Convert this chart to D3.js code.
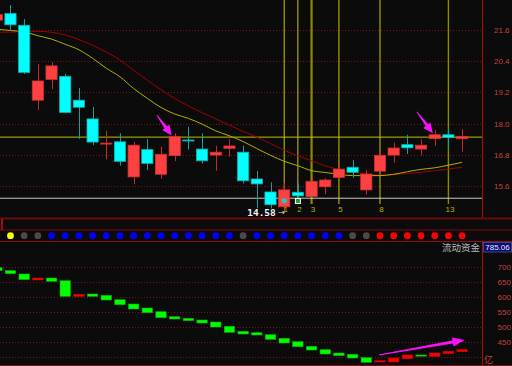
<!DOCTYPE html>
<html>
<head>
<meta charset="utf-8">
<script src="https://cdn.jsdelivr.net/npm/d3@7"></script>
<style>
  html, body { margin: 0; padding: 0; background: #0b0b0b; }
  svg { display: block; }
</style>
</head>
<body>
<svg id="chart" width="512" height="366"></svg>
<script>
// --------------------------------------
// data
// --------------------------------------
var openP  = [21.98, 22.23, 21.78, 18.90, 19.70, 19.82, 18.90, 18.18, 17.23, 17.30, 15.95, 17.00, 16.05, 16.77, 17.37, 17.02, 16.79, 17.05,
              16.90, 15.87, 15.37, 14.80, 15.36, 15.19, 15.57, 15.93, 16.32, 15.45, 16.17, 16.79, 17.19, 17.02, 17.42, 17.57, 17.42];
var closeP = [22.19, 21.80, 19.97, 19.64, 20.22, 18.43, 18.63, 17.29, 17.25, 16.55, 17.17, 16.47, 16.82, 17.50, 17.36, 16.57, 16.90, 17.14,
              15.80, 15.68, 14.88, 15.45, 15.22, 15.78, 15.83, 16.25, 16.13, 16.06, 16.78, 17.06, 17.07, 17.17, 17.57, 17.47, 17.51];
var highP  = [22.25, 22.56, 22.02, 20.28, 20.36, 19.91, 19.37, 18.64, 17.72, 17.63, 17.30, 17.41, 17.11, 17.63, 17.88, 17.63, 17.15, 17.40,
              17.15, 16.18, 15.74, 15.72, 15.70, 15.95, 15.90, 16.50, 16.60, 16.22, 16.95, 17.27, 17.57, 17.40, 17.75, 17.86, 17.79];
var lowP   = [21.95, 21.60, 19.91, 18.53, 19.32, 18.40, 17.41, 17.17, 16.63, 16.38, 15.67, 16.22, 15.88, 16.56, 17.00, 16.46, 16.19, 16.73,
              15.70, 14.74, 14.74, 14.58, 15.15, 15.19, 15.28, 15.83, 15.92, 15.27, 16.17, 16.50, 16.83, 16.78, 17.14, 17.07, 16.92];

// moving averages
var maFast = [21.63, 21.58, 21.53, 21.38, 21.25, 21.05, 20.84, 20.51, 20.13, 19.80, 19.35, 18.97, 18.62, 18.37, 18.20, 17.98, 17.72, 17.53,
              17.31, 17.04, 16.78, 16.55, 16.38, 16.19, 16.12, 16.05, 16.00, 16.00, 16.00, 16.05, 16.15, 16.24, 16.30, 16.40, 16.51];
var maSlow = [21.51, 21.52, 21.54, 21.55, 21.51, 21.41, 21.23, 21.01, 20.75, 20.45, 20.05, 19.67, 19.30, 18.97, 18.68, 18.42, 18.18, 17.94,
              17.70, 17.48, 17.23, 16.98, 16.76, 16.57, 16.38, 16.23, 16.13, 16.07, 16.02, 16.04, 16.08, 16.13, 16.19, 16.25, 16.32];

// 流动资金 (亿) - each box runs from open to close
var flowOpen  = [698.7, 688.7, 677.7, 657.7, 664.3, 655.3, 603.3, 611.0, 606.7, 592.0, 577.7, 564.3, 552.0, 535.3, 530.0, 524.3, 517.7, 503.3,
                 486.7, 482.0, 475.3, 463.3, 452.0, 436.7, 425.3, 414.3, 410.0, 398.7, 384.3, 384.3, 395.3, 407.7, 403.3, 412.0, 418.7];
var flowClose = [688.7, 678.7, 658.7, 664.3, 653.3, 603.3, 610.0, 603.3, 591.0, 575.3, 561.0, 548.7, 532.0, 527.7, 522.0, 514.3, 501.0, 483.3,
                 477.7, 474.3, 460.0, 447.7, 435.3, 424.3, 411.0, 405.3, 397.7, 383.3, 388.7, 397.7, 407.7, 404.3, 414.3, 420.0, 425.3];
var flowLast = "785.06";

// signal dots: o olive, y yellow, g gray, b blue, r red
var dotCodes = ["o", "y", "g", "g", "b", "b", "b", "b", "b", "b", "b", "b", "b", "b", "b", "b", "b", "b",
                "g", "b", "b", "b", "b", "b", "b", "b", "g", "g", "r", "r", "r", "r", "r", "r", "r"];

var priceTicks = [21.6, 20.4, 19.2, 18.0, 16.8, 15.6];
var flowTicks = [700, 650, 600, 550, 500, 450];
var flowGrid = [700, 650, 600, 550, 500, 450, 400];

// fibonacci time lines counted from the bottom bar
var fibBase = 20;
var fibSteps = [1, 2, 3, 5, 8, 13];

var hLineYellow = 17.48;
var hLineWhite = 15.13;
var lowMark = {i: 21, price: 14.58};

// magenta arrows drawn on the chart (bar index / value)
var priceArrows = [
    {from: [11.69, 18.33], to: [12.78, 17.54]},
    {from: [30.69, 18.46], to: [31.86, 17.63]}
];
var flowArrows = [
    {from: [27.92, 407.7], to: [34.18, 457.7]}
];

// --------------------------------------
// scales
// --------------------------------------
var W = 512, H = 366;
var plotRight = 482;
var svg = d3.select("#chart");

var x = d3.scaleLinear().domain([0, 34]).range([-3.2, 462.1]);
var yP = d3.scaleLinear().domain([15.6, 21.6]).range([186, 30]);
var yF = d3.scaleLinear().domain([450, 700]).range([342.3, 267.3]);
var bodyW = 11.2, flowW = 10.4;

var dotFill = {o: "#6a6a00", y: "#ffff00", g: "#4a4a4a", b: "#0000ff", r: "#ff0000"};

svg.append("rect").attr("width", W).attr("height", H).attr("fill", "#0b0b0b");

// clip for the two panels
var defs = svg.append("defs");
defs.append("clipPath").attr("id", "clipTop")
    .append("rect").attr("x", 0).attr("y", 0).attr("width", plotRight).attr("height", 218);
defs.append("clipPath").attr("id", "clipBot")
    .append("rect").attr("x", 0).attr("y", 242).attr("width", plotRight).attr("height", 123);

// --------------------------------------
// top panel: grid + reference lines
// --------------------------------------
var gTop = svg.append("g").attr("clip-path", "url(#clipTop)");

gTop.selectAll("line.grid").data(priceTicks).enter().append("line")
    .attr("x1", 0).attr("x2", plotRight)
    .attr("y1", function(d){ return Math.round(yP(d)) + 0.5; })
    .attr("y2", function(d){ return Math.round(yP(d)) + 0.5; })
    .attr("stroke", "#7a1414").attr("stroke-dasharray", "1,2");

// fib time lines
gTop.selectAll("line.fib").data(fibSteps).enter().append("line")
    .attr("x1", function(d){ return x(fibBase + d); })
    .attr("x2", function(d){ return x(fibBase + d); })
    .attr("y1", 0).attr("y2", 204)
    .attr("stroke", function(d){ return (d == 3 || d == 13) ? "#8a8a00" : "#c8c800"; })
    .attr("stroke-width", function(d){ return d == 3 ? 2.2 : (d == 13 ? 1.4 : 1); });

svg.selectAll("text.fib").data(fibSteps).enter().append("text")
    .attr("x", function(d){ return x(fibBase + d) + 1.5; })
    .attr("y", 212)
    .attr("text-anchor", "middle")
    .attr("fill", "#b4b400")
    .attr("font-family", "Liberation Sans, Arial, sans-serif")
    .attr("font-size", "8px")
    .text(function(d){ return d; });

gTop.append("line")
    .attr("x1", 0).attr("x2", plotRight)
    .attr("y1", yP(hLineYellow)).attr("y2", yP(hLineYellow))
    .attr("stroke", "#c0c000").attr("stroke-width", 1);
gTop.append("line")
    .attr("x1", 0).attr("x2", plotRight)
    .attr("y1", yP(hLineWhite)).attr("y2", yP(hLineWhite))
    .attr("stroke", "#c8c8c8").attr("stroke-width", 1);

// moving averages
var maLine = function(arr){
    return d3.line()
        .x(function(d, i){ return x(i); })
        .y(function(d){ return yP(d); })
        .curve(d3.curveMonotoneX)(arr);
};
gTop.append("path").attr("d", maLine(maSlow))
    .attr("fill", "none").attr("stroke", "#a00000").attr("stroke-width", 1);
gTop.append("path").attr("d", maLine(maFast))
    .attr("fill", "none").attr("stroke", "#b0b000").attr("stroke-width", 1);

// candles
var bars = d3.range(openP.length).map(function(i){
    return {i: i, o: openP[i], c: closeP[i], h: highP[i], l: lowP[i], up: closeP[i] >= openP[i]};
});

var candle = gTop.selectAll("g.candle").data(bars).enter().append("g");

candle.append("line")
    .attr("x1", function(d){ return Math.round(x(d.i)) + 0.5; })
    .attr("x2", function(d){ return Math.round(x(d.i)) + 0.5; })
    .attr("y1", function(d){ return yP(d.h); })
    .attr("y2", function(d){ return yP(d.l); })
    .attr("stroke", function(d){ return d.up ? "#c82828" : "#10a0a0"; });

candle.append("rect")
    .attr("x", function(d){ return x(d.i) - bodyW / 2; })
    .attr("width", bodyW)
    .attr("y", function(d){ return yP(Math.max(d.o, d.c)); })
    .attr("height", function(d){ return Math.max(1, Math.abs(yP(d.o) - yP(d.c))); })
    .attr("fill", function(d){ return d.up ? "#ff4040" : "#00ffff"; })
    .attr("stroke", function(d){ return d.up ? "#d03030" : "#10b0b0"; })
    .attr("stroke-width", 0.8);

// small signal markers under bars 21 / 22
gTop.append("rect")
    .attr("x", x(21) - 2.5).attr("y", yP(15.12)).attr("width", 5).attr("height", 4.5)
    .attr("fill", "#30c0c0");
gTop.append("rect")
    .attr("x", x(22) - 2.5).attr("y", yP(15.12)).attr("width", 5).attr("height", 5)
    .attr("fill", "#20a020").attr("stroke", "#ffffff").attr("stroke-width", 1);

// --------------------------------------
// magenta arrows
// --------------------------------------
function arrowPath(x1, y1, x2, y2, tailW, neckW, headW, headL){
    var dx = x2 - x1, dy = y2 - y1, len = Math.sqrt(dx*dx + dy*dy);
    var ux = dx / len, uy = dy / len, nx = -uy, ny = ux;
    var bx = x2 - ux * headL, by = y2 - uy * headL;
    var p = [
        [x1 + nx*tailW/2, y1 + ny*tailW/2],
        [bx + nx*neckW/2, by + ny*neckW/2],
        [bx + nx*headW/2, by + ny*headW/2],
        [x2, y2],
        [bx - nx*headW/2, by - ny*headW/2],
        [bx - nx*neckW/2, by - ny*neckW/2],
        [x1 - nx*tailW/2, y1 - ny*tailW/2]
    ];
    return "M" + p.map(function(q){ return q[0].toFixed(1) + "," + q[1].toFixed(1); }).join("L") + "Z";
}

svg.selectAll("path.parrow").data(priceArrows).enter().append("path")
    .attr("d", function(d){
        return arrowPath(x(d.from[0]), yP(d.from[1]), x(d.to[0]), yP(d.to[1]), 0.8, 3, 9, 10);
    })
    .attr("fill", "#ff10ff");

// --------------------------------------
// price axis
// --------------------------------------
svg.append("line")
    .attr("x1", plotRight + 0.5).attr("x2", plotRight + 0.5)
    .attr("y1", 0).attr("y2", 219)
    .attr("stroke", "#a01010").attr("stroke-width", 1.2);

var pAxis = svg.append("g")
    .attr("transform", "translate(" + plotRight + ",0)")
    .call(d3.axisRight(yP).tickValues(priceTicks).tickSize(0).tickPadding(12)
        .tickFormat(d3.format(".1f")));
pAxis.select(".domain").remove();
pAxis.selectAll("text")
    .attr("fill", "#c84040")
    .attr("font-family", "Liberation Sans, Arial, sans-serif")
    .attr("font-size", "8px");

// low price label
svg.append("text")
    .attr("x", x(lowMark.i) - 37).attr("y", yP(lowMark.price) + 3.5)
    .attr("fill", "#f0f0f0")
    .attr("font-family", "DejaVu Sans Mono, monospace")
    .attr("font-size", "9.5px")
    .attr("font-weight", "bold")
    .text(d3.format(".2f")(lowMark.price));
svg.append("text")
    .attr("x", x(lowMark.i) - 6).attr("y", yP(lowMark.price) + 2)
    .attr("fill", "#e0e0e0")
    .attr("font-family", "DejaVu Sans, sans-serif")
    .attr("font-size", "8px")
    .text("\u2192");

// --------------------------------------
// separators and signal dot row
// --------------------------------------
svg.append("rect").attr("x", 0).attr("y", 217.5).attr("width", W).attr("height", 2).attr("fill", "#6e0a0a");
svg.append("line").attr("x1", 0).attr("x2", W).attr("y1", 230).attr("y2", 230)
    .attr("stroke", "#800c0c").attr("stroke-width", 1);
svg.append("line").attr("x1", 0).attr("x2", W).attr("y1", 241.5).attr("y2", 241.5)
    .attr("stroke", "#900c0c").attr("stroke-width", 1.2);
svg.append("line").attr("x1", 2).attr("x2", 2).attr("y1", 219).attr("y2", 230)
    .attr("stroke", "#d01010").attr("stroke-width", 1.5);

svg.selectAll("circle.sig").data(dotCodes).enter().append("circle")
    .attr("cx", function(d, i){ return x(i); })
    .attr("cy", 235.7)
    .attr("r", 3.4)
    .attr("fill", function(d){ return dotFill[d]; });

// --------------------------------------
// bottom panel: 流动资金
// --------------------------------------
var gBot = svg.append("g").attr("clip-path", "url(#clipBot)");

gBot.selectAll("line.fgrid").data(flowGrid).enter().append("line")
    .attr("x1", 0).attr("x2", plotRight)
    .attr("y1", function(d){ return Math.round(yF(d)) + 0.5; })
    .attr("y2", function(d){ return Math.round(yF(d)) + 0.5; })
    .attr("stroke", "#7a1414").attr("stroke-dasharray", "1,2");

var flows = d3.range(flowOpen.length).map(function(i){
    return {i: i, o: flowOpen[i], c: flowClose[i], up: flowClose[i] > flowOpen[i]};
});

gBot.selectAll("rect.flow").data(flows).enter().append("rect")
    .attr("x", function(d){ return x(d.i) - flowW / 2; })
    .attr("width", flowW)
    .attr("y", function(d){ return yF(Math.max(d.o, d.c)); })
    .attr("height", function(d){ return Math.max(1.2, Math.abs(yF(d.o) - yF(d.c))); })
    .attr("fill", function(d){ return d.up ? "#ff0000" : "#00ff00"; })
    .attr("stroke", function(d){ return d.up ? "#d00000" : "#00b000"; })
    .attr("stroke-width", 0.6);

svg.selectAll("path.farrow").data(flowArrows).enter().append("path")
    .attr("d", function(d){
        return arrowPath(x(d.from[0]), yF(d.from[1]), x(d.to[0]), yF(d.to[1]), 0.8, 3.2, 9, 12);
    })
    .attr("fill", "#ff10ff");

svg.append("line")
    .attr("x1", plotRight + 0.5).attr("x2", plotRight + 0.5)
    .attr("y1", 241).attr("y2", H)
    .attr("stroke", "#a01010").attr("stroke-width", 1.2);
svg.append("line").attr("x1", 0).attr("x2", W).attr("y1", 365.5).attr("y2", 365.5)
    .attr("stroke", "#800c0c").attr("stroke-width", 1);

var fAxis = svg.append("g")
    .attr("transform", "translate(" + plotRight + ",0)")
    .call(d3.axisRight(yF).tickValues(flowTicks).tickSize(0).tickPadding(15.5));
fAxis.select(".domain").remove();
fAxis.selectAll("text")
    .attr("fill", "#c84040")
    .attr("font-family", "Liberation Sans, Arial, sans-serif")
    .attr("font-size", "8px");

svg.append("text")
    .attr("x", plotRight + 2).attr("y", 363)
    .attr("fill", "#c84040")
    .attr("font-family", "Noto Sans CJK SC, sans-serif")
    .attr("font-size", "9px")
    .text("亿");

svg.append("text")
    .attr("x", 480).attr("y", 250.5)
    .attr("text-anchor", "end")
    .attr("fill", "#b8b8b8")
    .attr("font-family", "Noto Sans CJK SC, sans-serif")
    .attr("font-size", "9.5px")
    .text("流动资金");

svg.append("rect")
    .attr("x", 483.5).attr("y", 242.5).attr("width", 28).attr("height", 9.5)
    .attr("fill", "#0c0c70").attr("stroke", "#5050a0").attr("stroke-width", 0.8);
svg.append("text")
    .attr("x", 497.5).attr("y", 250.3)
    .attr("text-anchor", "middle")
    .attr("fill", "#e8e8ff")
    .attr("font-family", "Liberation Sans, Arial, sans-serif")
    .attr("font-size", "8px")
    .text(flowLast);
</script>
</body>
</html>
